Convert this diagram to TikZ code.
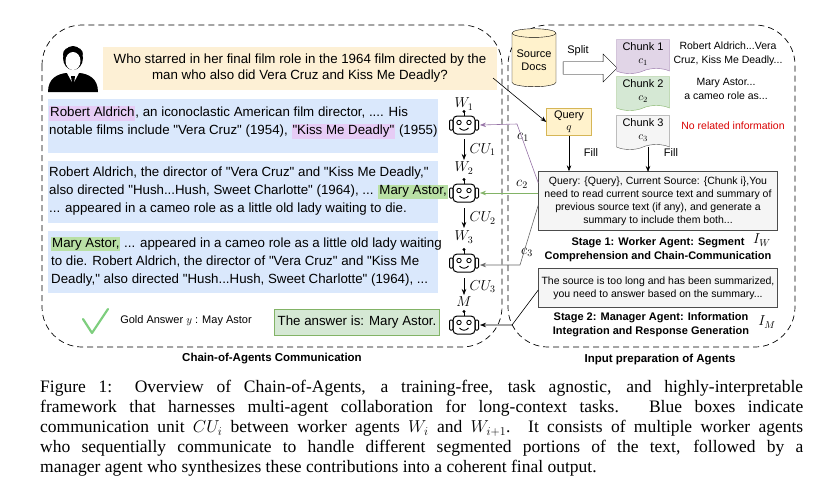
\documentclass[tikz,border=0pt]{standalone}
\usepackage{fontspec}
\setmainfont{Liberation Sans}[Ligatures=TeXOff]
\newfontfamily\capfont{Liberation Serif}
\usetikzlibrary{shapes.geometric,shapes.symbols,shapes.arrows,arrows.meta}
\definecolor{qyel}{HTML}{FDF0D5}
\definecolor{blu}{HTML}{DAE8FC}
\definecolor{pur}{HTML}{E1D5E7}
\definecolor{purd}{HTML}{9673A6}
\definecolor{grn}{HTML}{D5E8D4}
\definecolor{grnd}{HTML}{82B366}
\definecolor{yel}{HTML}{FFF2CC}
\definecolor{yeld}{HTML}{D6B656}
\definecolor{gry}{HTML}{F5F5F5}
\definecolor{hlp}{HTML}{E6CCF5}
\definecolor{hlg}{HTML}{B9E0A5}
\newcommand{\hlbox}[2]{{\fboxsep=1pt\colorbox{#1}{\vphantom{Ay}#2}}}
\tikzset{
  txt/.style={font=\fontsize{13.3}{18}\selectfont,align=left,anchor=north west,inner sep=0pt},
  bluebox/.style={fill=blu,draw=none},
  doc/.style={draw=black!70,tape,tape bend top=none,minimum width=53pt,minimum height=34pt,align=center,font=\fontsize{11}{13}\selectfont,inner sep=1pt},
  small/.style={font=\fontsize{10.5}{13}\selectfont,align=center},
  stage/.style={font=\bfseries\fontsize{11}{14}\selectfont,align=center},
  dashbox/.style={draw,dashed,dash pattern=on 6pt off 4pt,rounded corners=40pt,line width=0.7pt},
  arr/.style={-{Stealth[length=6pt]},line width=0.6pt},
  ml/.style={font=\fontsize{14}{16}\selectfont},
  robot/.pic={
    \draw[line width=1pt,rounded corners=4pt] (-11,-9) rectangle (11,9);
    \draw[line width=1pt,rounded corners=1pt] (-14.5,-5) rectangle (-11,5);
    \draw[line width=1pt,rounded corners=1pt] (11,-5) rectangle (14.5,5);
    \draw[line width=0.9pt] (-5,-2.5) circle (2.2) (5,-2.5) circle (2.2);
    \draw[line width=0.9pt] (-4.5,3) .. controls (-2,6) and (2,6) .. (4.5,3);
    \draw[line width=0.9pt] (0,-9) -- (0,-13);
    \fill (0,-13.5) circle (1.7);
  }
}
\begin{document}
\begin{tikzpicture}[x=1pt,y=-1pt]
\useasboundingbox (0,0) rectangle (817,493);
% dashed containers
\draw[dashbox] (42,25) rectangle (502,347);
\draw[dashbox] (508,25) rectangle (795,347);
\node[font=\bfseries\fontsize{11.5}{13}\selectfont] (lt) at (272,359) {Chain-of-Agents Communication};
\node[font=\bfseries\fontsize{11.5}{13}\selectfont] (rt) at (660,360) {Input preparation of Agents};
% person
\begin{scope}
\fill (73,58) ellipse (10 and 12);
\fill[white] (73,61) ellipse (7.5 and 9);
\fill (63,55) .. controls (62,44) and (84,44) .. (83,55) -- (80,52) .. controls (75,50) and (68,51) .. (64,56) -- cycle;
\fill (48,92) .. controls (48,78) and (58,74) .. (66,73) -- (80,73) .. controls (88,74) and (98,78) .. (98,92) -- cycle;
\fill[white] (67,73) -- (73,84) -- (79,73) -- cycle;
\fill (71,76) -- (75,76) -- (74,84) -- (73,86) -- (72,84) -- cycle;
\end{scope}
% question
\node[fill=qyel,minimum width=394pt,minimum height=43pt,inner sep=0pt] (q) at (300,68) {};
\node[font=\fontsize{13.3}{16}\selectfont,align=center] at (q) {Who starred in her final film role in the 1964 film directed by the\\man who also did Vera Cruz and Kiss Me Deadly?};
% blue boxes
\node[bluebox,minimum width=390pt,minimum height=54pt] (b1) at (243,126) {};
\node[txt] at (49,106) {\hlbox{hlp}{Robert Aldrich}, an iconoclastic American film director, .... His\\notable films include "Vera Cruz" (1954), \hlbox{hlp}{"Kiss Me Deadly"} (1955)};
\node[bluebox,minimum width=390pt,minimum height=62pt] (b2) at (243,192) {};
\node[txt] at (49,167) {Robert Aldrich, the director of "Vera Cruz" and "Kiss Me Deadly,"\\also directed "Hush...Hush, Sweet Charlotte" (1964), ... \hlbox{hlg}{Mary Astor,}\\... appeared in a cameo role as a little old lady waiting to die.};
\node[bluebox,minimum width=390pt,minimum height=62pt] (b3) at (243,262) {};
\node[txt] at (51,237) {\hlbox{hlg}{Mary Astor,} ... appeared in a cameo role as a little old lady waiting\\to die. Robert Aldrich, the director of "Vera Cruz" and "Kiss Me\\Deadly," also directed "Hush...Hush, Sweet Charlotte" (1964), ...};
% answer
\draw[line width=2.2pt,line cap=round,line join=round,green!45!gray!70] (83,319) -- (92,333) -- (108,309);
\node[font=\fontsize{11}{13}\selectfont] (gold) at (186,321) {Gold Answer $y$ : May Astor};
\node[fill=grn,draw=grnd,minimum width=161pt,minimum height=26pt,font=\fontsize{13.3}{15}\selectfont] (ans) at (357,322) {The answer is: Mary Astor.};
% robots
\pic at (464,125) {robot};
\pic at (464,193) {robot};
\pic at (464,263) {robot};
\pic at (464,325) {robot};
\coordinate (r1) at (480,125); \coordinate (r2) at (480,193); \coordinate (r3) at (480,265); \coordinate (r4) at (480,325);
\node[ml] (w1) at (464,104) {$W_1$};
\node[ml] (w2) at (464,168) {$W_2$};
\node[ml] (w3) at (464,237) {$W_3$};
\node[ml] (m) at (464,302) {$M$};
\foreach \a/\b/\l in {139/160/1,208/228/2,278/295/3}{
  \draw[arr] (464,\a) -- (464,\b);
  \node[ml,anchor=west] at (466,{(\a+\b)/2}) {$CU_\l$};
}
% source docs
\node[cylinder,shape border rotate=90,aspect=0.25,draw,fill=yel,minimum width=44pt,minimum height=58pt,align=center,font=\fontsize{11}{13}\selectfont,inner sep=0pt] (src) at (534,60) {Source\\Docs};
\node[font=\fontsize{11}{13}\selectfont] (split) at (578,51) {Split};
\node[single arrow,draw,minimum height=54pt,minimum width=28pt,single arrow head extend=4pt,inner sep=3pt] (big) at (587,68) {};
% chunks
\node[doc,fill=pur,draw=purd] (c1) at (643,54) {Chunk 1\\$c_1$};
\node[doc,fill=grn,draw=grnd] (c2) at (643,91) {Chunk 2\\$c_2$};
\node[doc,fill=gry] (c3) at (643,130) {Chunk 3\\$c_3$};
\node[small,font=\fontsize{10.5}{14}\selectfont] (t1) at (728,54) {Robert Aldrich...Vera\\Cruz, Kiss Me Deadly...};
\node[small,font=\fontsize{10.5}{14}\selectfont] (t2) at (726,89) {Mary Astor...\\a cameo role as...};
\node[small,text=red!85!black] (t3) at (733,126) {No related information};
% query
\node[draw=yeld,fill=yel,minimum width=45pt,minimum height=27pt,align=center,font=\fontsize{11}{12}\selectfont,inner sep=0pt] (qq) at (569,122) {Query\\$q$};
\draw[arr] (493,78) coordinate (qs) -- (qq.west);
% template
\node[draw=black!70,fill=gry,minimum width=239pt,minimum height=59pt,small,inner sep=1pt] (tpl) at (658,201) {Query: \{Query\}, Current Source: \{Chunk i\},You\\need to read current source text and summary of\\previous source text (if any), and generate a\\summary to include them both...};
\draw[arr] (qq.south) -- (qq.south |- tpl.north);
\draw[arr] (648,147) -- (648,172);
\node[font=\fontsize{11}{13}\selectfont] at (591,153) {Fill};
\node[font=\fontsize{11}{13}\selectfont] at (671,153) {Fill};
\node[stage] (s1) at (658,250) {Stage 1: Worker Agent: Segment\\Comprehension and Chain-Communication};
\node[ml] at (762,240) {$I_W$};
\node[draw=black!70,fill=gry,minimum width=239pt,minimum height=39pt,small,inner sep=1pt] (mgr) at (658,288) {The source is too long and has been summarized,\\you need to answer based on the summary...};
\node[stage] (s2) at (651,325) {Stage 2: Manager Agent: Information\\Integration and Response Generation};
\node[ml] at (767,322) {$I_M$};
% connectors
\draw[arr,purd] (tpl.west |- 0,183) -- (517,124) -- (r1);
\draw[arr,grnd] (tpl.west |- 0,193) -- (r2);
\draw[arr,black!60] (tpl.west |- 0,205) -- (520,265) -- (r3);
\draw[arr] (mgr.west |- 0,290) -- (512,325) -- (r4);
\node[ml] at (523,137) {$c_1$};
\node[ml] at (522,184) {$c_2$};
\node[ml] at (527,252) {$c_3$};
% caption
\node[anchor=north west,text width=763pt,align=justify,inner sep=0pt,font=\capfont\fontsize{17.5}{20}\selectfont] (cap) at (40,380) {\hyphenpenalty=10000 Figure 1: Overview of Chain-of-Agents, a training-free, task agnostic, and highly-interpretable\linebreak framework that harnesses multi-agent collaboration for long-context tasks. Blue boxes indicate\linebreak communication unit $CU_i$ between worker agents $W_i$ and $W_{i+1}$. It consists of multiple worker agents\linebreak who sequentially communicate to handle different segmented portions of the text, followed by a\linebreak manager agent who synthesizes these contributions into a coherent final output.};
\end{tikzpicture}
\end{document}
